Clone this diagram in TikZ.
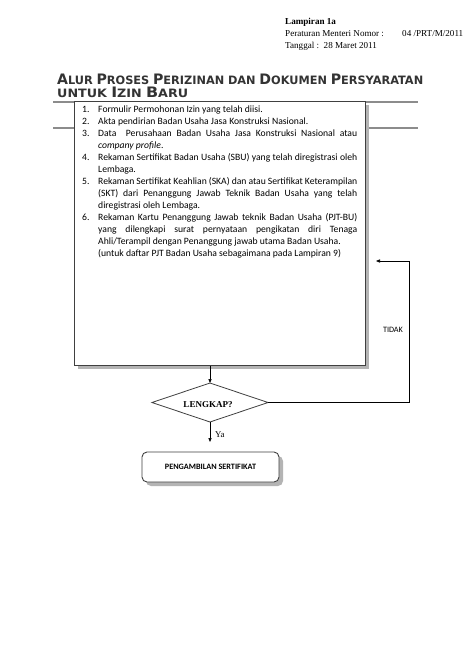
\documentclass[tikz,border=0pt]{standalone}
\usepackage{fontspec}
\setmainfont{Liberation Serif}
\newfontfamily\calfont{Carlito}
\newfontfamily\ttlfont{DejaVu Sans}
\usetikzlibrary{arrows.meta,shadows}
\definecolor{ttlgray}{HTML}{333333}
\definecolor{rulegray}{HTML}{8C8C8C}
\definecolor{edgegray}{HTML}{404040}
\definecolor{shadowgray}{HTML}{B4B4B4}
\begin{document}
\begin{tikzpicture}[x=1pt,y=-1pt,
  hdr/.style={anchor=base west,inner sep=0,font=\fontsize{9.1}{11}\selectfont},
  li/.style={anchor=base west,inner sep=0,font=\calfont\fontsize{9.65}{11}\selectfont},
  arr/.style={draw=black,line width=0.7pt,-{Triangle[length=4pt,width=3.2pt]}},
  shd/.style={drop shadow={shadow xshift=4pt,shadow yshift=-4pt,fill=shadowgray,opacity=1}}]
\useasboundingbox[fill=white] (0,0) rectangle (474,670);

% header
\node[hdr] (h1) at (285,24.5) {\bfseries Lampiran 1a};
\node[hdr] (h2) at (285,36.5) {Peraturan Menteri Nomor :};
\node[hdr] (h2b) at (402,36.5) {04 /PRT/M/2011};
\node[hdr] (h3) at (285,48.5) {Tanggal :\ \ 28 Maret 2011};

% title
\newcommand{\Bc}[1]{{\fontsize{13}{13}\selectfont #1}}
\newcommand{\Sc}[1]{{\fontsize{10.4}{13}\selectfont #1}}
\node[anchor=base west,inner sep=0,text=ttlgray] (t1) at (57,84)
  {\resizebox{366pt}{10.5pt}{\ttlfont\bfseries \Bc{A}\Sc{LUR} \Bc{P}\Sc{ROSES} \Bc{P}\Sc{ERIZINAN} \Sc{DAN} \Bc{D}\Sc{OKUMEN} \Bc{P}\Sc{ERSYARATAN}}};
\node[anchor=base west,inner sep=0,text=ttlgray] (t2) at (57,97)
  {\resizebox{131pt}{10.5pt}{\ttlfont\bfseries \Sc{UNTUK} \Bc{I}\Sc{ZIN} \Bc{B}\Sc{ARU}}};

% rules
\coordinate (r1a) at (53,102); \coordinate (r1b) at (418,102);
\coordinate (r2a) at (53,128); \coordinate (r2b) at (418,128);
\draw[rulegray,line width=1.1pt] (r1a) -- (r1b);
\draw[rulegray,line width=1.1pt] (r2a) -- (r2b);

% main box
\node[draw=edgegray,line width=0.9pt,fill=white,shd,anchor=north west,
  minimum width=291pt,minimum height=264pt,inner sep=0] (docs) at (74,101) {};

% list
\node[li] (n1) at (82,112) {1.};
\node[li] (l1) at (98,112) {Formulir Permohonan Izin yang telah diisi.};
\node[li] (n2) at (82,124) {2.};
\node[li] (l2) at (98,124) {Akta pendirian Badan Usaha Jasa Konstruksi Nasional.};
\node[li] (n3) at (82,136) {3.};
\node[li] (l3) at (98,136) {\makebox[259pt][s]{Data\ \ Perusahaan Badan Usaha Jasa Konstruksi Nasional atau}};
\node[li] (l4) at (98,148) {\itshape company profile\upshape .};
\node[li] (n4) at (82,160) {4.};
\node[li] (l5) at (98,160) {\makebox[259pt][s]{Rekaman Sertifikat Badan Usaha (SBU) yang telah diregistrasi oleh}};
\node[li] (l6) at (98,172) {Lembaga.};
\node[li] (n5) at (82,184) {5.};
\node[li] (l7) at (98,184) {\makebox[259pt][s]{Rekaman Sertifikat Keahlian (SKA) dan atau Sertifikat Keterampilan}};
\node[li] (l8) at (98,196) {\makebox[259pt][s]{(SKT) dari Penanggung Jawab Teknik Badan Usaha yang telah}};
\node[li] (l9) at (98,208) {diregistrasi oleh Lembaga.};
\node[li] (n6) at (82,220) {6.};
\node[li] (l10) at (98,220) {\makebox[259pt][s]{Rekaman Kartu Penanggung Jawab teknik Badan Usaha (PJT-BU)}};
\node[li] (l11) at (98,232) {\makebox[259pt][s]{yang dilengkapi surat pernyataan pengikatan diri Tenaga}};
\node[li] (l12) at (98,244) {Ahli/Terampil dengan Penanggung jawab utama Badan Usaha.};
\node[li] (l13) at (98,256) {(untuk daftar PJT Badan Usaha sebagaimana pada Lampiran 9)};

% diamond
\coordinate (dT) at (210,383);
\coordinate (dR) at (268,402.5);
\coordinate (dB) at (210,422);
\coordinate (dL) at (152,402.5);
\draw[draw=edgegray,line width=0.8pt,fill=white] (dT) -- (dR) -- (dB) -- (dL) -- cycle;
\node[inner sep=0,anchor=base,font=\bfseries\fontsize{9}{10}\selectfont] (lk) at (208,407) {LENGKAP?};

% connectors
\draw[arr] (dT |- docs.south) -- (dT);
\coordinate (lp1) at (409,402.5);
\coordinate (lp2) at (409,261);
\coordinate (lpend) at (376,261);
\draw[arr] (dR) -- (lp1) -- (lp2) -- (lpend);
\node[inner sep=0,anchor=base,font=\calfont\fontsize{8.2}{9}\selectfont] (tidak) at (393,332) {TIDAK};

\coordinate (yaEnd) at (210,442);
\draw[arr] (dB) -- (yaEnd);
\node[hdr,font=\fontsize{8.8}{10}\selectfont] (ya) at (215,437) {Ya};

% final box
\node[draw=edgegray,line width=0.9pt,fill=white,rounded corners=5pt,shd,
  minimum width=137pt,minimum height=30pt,inner sep=0,
  font=\calfont\bfseries\fontsize{8.2}{9}\selectfont] (peng) at (210.5,467) {PENGAMBILAN SERTIFIKAT};
\end{tikzpicture}
\end{document}
